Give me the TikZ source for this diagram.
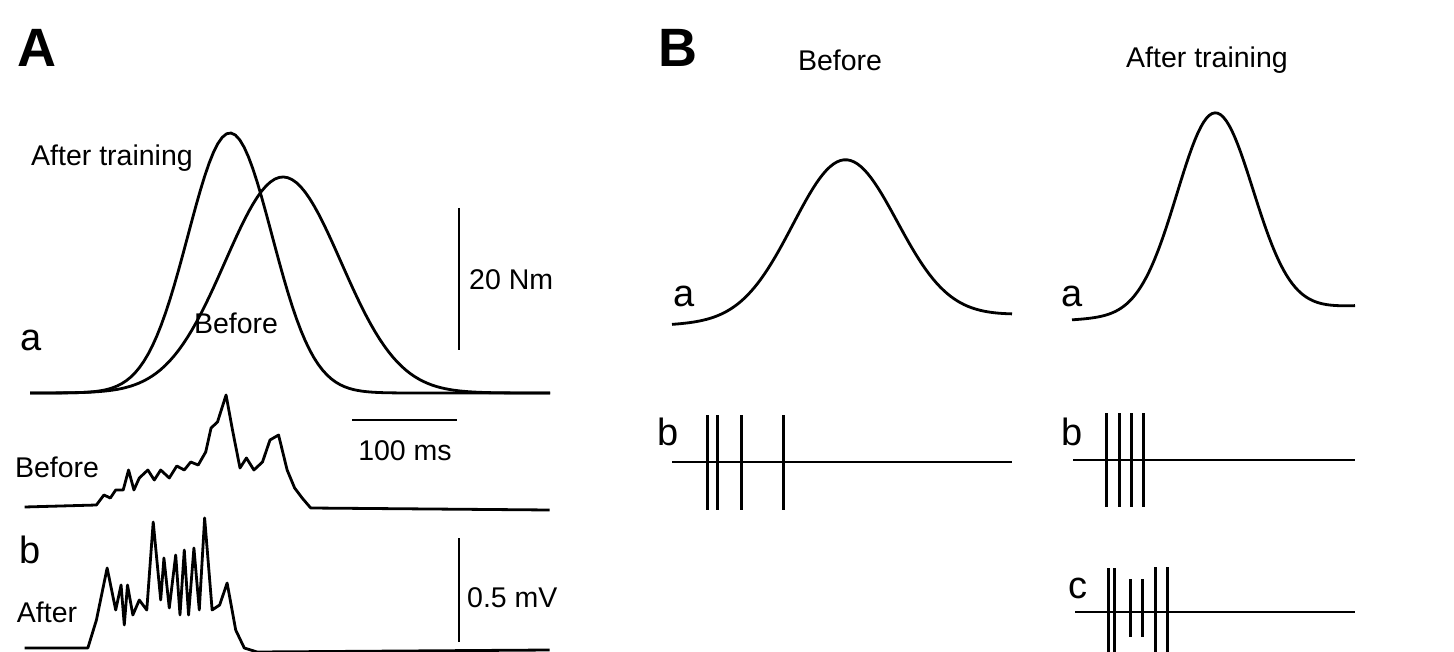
\documentclass[tikz,border=0pt]{standalone}
\usepackage{fontspec}
\setmainfont{Liberation Sans}
\begin{document}
\begin{tikzpicture}[x=1pt,y=-1pt,
  trace/.style={line width=2.8pt,line join=round},
  spike/.style={line width=3pt},
  bar/.style={line width=2.2pt},
  lbl/.style={inner sep=0pt,font=\fontsize{28.5}{32}\selectfont},
  let/.style={inner sep=0pt,font=\fontsize{38}{42}\selectfont},
  pan/.style={inner sep=0pt,font=\fontsize{54}{58}\selectfont\bfseries}]
\useasboundingbox (0,0) rectangle (1454,652);
% Panel A torque
\draw[trace] plot[domain=30:550,samples=120] (\x,{393-260*exp(-((\x-230)/42)^2/2)});
\draw[trace] plot[domain=30:550,samples=120] (\x,{393-216*exp(-((\x-283)/58)^2/2)});
\begin{scope}[xscale=1.0714]
% EMG before
\draw[trace] (23,507) -- (90,505) -- (97,495) -- (103,498) -- (108,490) -- (115,490) -- (120,470) -- (125,490) -- (130,478) -- (138,470) -- (144,480) -- (150,470) -- (158,478) -- (165,466) -- (172,470) -- (178,462) -- (185,465) -- (192,452) -- (197,428) -- (203,422) -- (211,395) -- (217,430) -- (224,468) -- (230,458) -- (237,470) -- (245,462) -- (252,440) -- (260,435) -- (268,470) -- (275,488) -- (282,498) -- (290,508) -- (513,510);
% EMG after
\draw[trace] (23,648) -- (82,648) -- (90,620) -- (100,568) -- (108,610) -- (113,585) -- (116,625) -- (119,585) -- (124,615) -- (130,600) -- (137,610) -- (143,522) -- (150,600) -- (153,558) -- (158,608) -- (164,555) -- (168,615) -- (172,550) -- (176,615) -- (181,548) -- (186,610) -- (191,518) -- (198,610) -- (205,605) -- (212,583) -- (220,630) -- (228,648) -- (240,652) -- (513,650);
\end{scope}
% scale bars
\draw[bar] (459,208) -- (459,350);
\draw[bar] (352,420) -- (457,420);
\draw[bar] (459,538) -- (459,642);
\node[lbl,anchor=west] (t20) at (469,280) {20 Nm};
\node[lbl] (t100) at (405,451) {100 ms};
\node[lbl,anchor=west] (t05) at (467,598) {0.5 mV};
% A labels
\node[pan] (pA) at (37,48) {A};
\node[lbl] (atr) at (112,158) {After training};
\node[lbl] (bef) at (236,323) {Before};
\node[let] (la) at (31,340) {a};
\node[lbl] (bef2) at (57,467) {Before};
\node[let] (lb) at (30,550) {b};
\node[lbl] (aft2) at (47,612) {After};
% Panel B
\node[pan] (pB) at (678,48) {B};
\node[lbl] (hb) at (840,60) {Before};
\node[lbl] (ha) at (1207,60) {After training};
\draw[trace] plot[domain=672:1012,samples=100] (\x,{325-(\x-672)*0.03-160*exp(-((\x-845)/52)^2/2)});
\draw[trace] plot[domain=1072:1355,samples=100] (\x,{320-(\x-1072)*0.05-200*exp(-((\x-1215)/38)^2/2)});
\node[let] (ba) at (684,296) {a};
\node[let] (bb) at (668,432) {b};
\node[let] (aa) at (1072,296) {a};
\node[let] (ab) at (1072,432) {b};
\node[let] (ac) at (1078,588) {c};
% spikes
\draw[trace] (672,462) -- (1012,462);
\foreach \s in {707,717,741,783} \draw[spike] (\s,415) -- (\s,510);
\draw[trace] (1073,460) -- (1355,460);
\foreach \s in {1106,1119,1131,1143} \draw[spike] (\s,413) -- (\s,507);
\draw[trace] (1075,612) -- (1355,612);
\foreach \s in {1108,1114} \draw[spike] (\s,568) -- (\s,652);
\foreach \s in {1130,1142} \draw[spike] (\s,579) -- (\s,637);
\foreach \s in {1155,1167} \draw[spike] (\s,567) -- (\s,652);
\end{tikzpicture}
\end{document}
